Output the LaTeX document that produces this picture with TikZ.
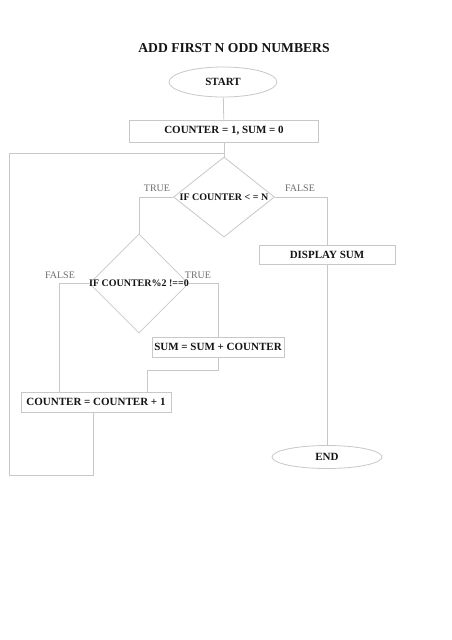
\documentclass[tikz,border=0pt]{standalone}
\usepackage{fontspec}
\setmainfont{Liberation Serif}
\usetikzlibrary{shapes.geometric}
\definecolor{linegray}{RGB}{200,200,200}
\definecolor{labgray}{RGB}{110,110,110}
\definecolor{txt}{RGB}{20,20,20}
\begin{document}
\begin{tikzpicture}[x=1pt,y=-1pt,
  every path/.style={draw=linegray, line width=0.8pt},
  conn/.style={draw=linegray, line width=0.8pt},
  procbox/.style={draw=linegray, line width=0.8pt, rectangle, inner sep=0pt, text=txt, font=\fontsize{11}{13}\selectfont\bfseries},
  term/.style={draw=linegray, line width=0.8pt, ellipse, inner sep=0pt, text=txt, font=\fontsize{11}{13}\selectfont\bfseries},
  dia/.style={draw=linegray, line width=0.8pt, diamond, inner sep=0pt},
  diatext/.style={text=txt, inner sep=0pt, font=\fontsize{10}{12}\selectfont\bfseries},
  lab/.style={text=labgray, inner sep=0pt, font=\fontsize{10}{12}\selectfont},
  ttl/.style={text=txt, inner sep=0pt, font=\fontsize{13.6}{16}\selectfont\bfseries}]
\useasboundingbox[fill=white, draw=none] (0,0) rectangle (452,640);

\node[ttl] (title) at (234,48) {ADD FIRST N ODD NUMBERS};
\node[term, minimum width=108pt, minimum height=30pt] (start) at (223,82) {START};
\node[procbox, minimum width=189pt, minimum height=22pt] (init) at (224,131) {COUNTER = 1, SUM = 0};

\node[dia, minimum width=101pt, minimum height=80pt] (d1) at (224,197) {};
\node[diatext] (d1t) at (224,197) {IF COUNTER < = N};
\node[lab] (t1) at (157,188) {TRUE};
\node[lab] (f1) at (300,188) {FALSE};

\node[procbox, minimum width=136pt, minimum height=19pt] (disp) at (327,254.5) {DISPLAY SUM};
\node[term, minimum width=110pt, minimum height=23pt] (end) at (327,457) {END};

\node[dia, minimum width=99pt, minimum height=99pt] (d2) at (139,283.5) {};
\node[diatext] (d2t) at (139,283) {IF COUNTER\%2 !==0};
\node[lab] (f2) at (60,275) {FALSE};
\node[lab] (t2) at (198,275) {TRUE};

\node[procbox, minimum width=132pt, minimum height=20pt] (sum) at (218,347) {SUM = SUM + COUNTER};
\node[procbox, minimum width=150pt, minimum height=20pt] (inc) at (96,402) {COUNTER = COUNTER + 1};

\coordinate (lt) at (9,153);
\coordinate (lb) at (9,475);
\coordinate (ib) at (93,412);
\coordinate (m) at (147,370);
\coordinate (fl) at (59,392);

\draw[conn] (start) -- (init);
\draw[conn] (init.south) -- (d1.north);
\draw[conn] (d1.west) -| (d2.north);
\draw[conn] (d1.east) -| (disp.north);
\draw[conn] (disp.south) -- (end.north);
\draw[conn] (d2.west) -| (fl);
\draw[conn] (d2.east) -| (sum.north);
\draw[conn] (sum.south) |- (m) -- (m |- inc.north);
\draw[conn] (ib) -- (ib |- lb) -- (lb) -- (lt) -- (lt -| init.south);
\end{tikzpicture}
\end{document}
